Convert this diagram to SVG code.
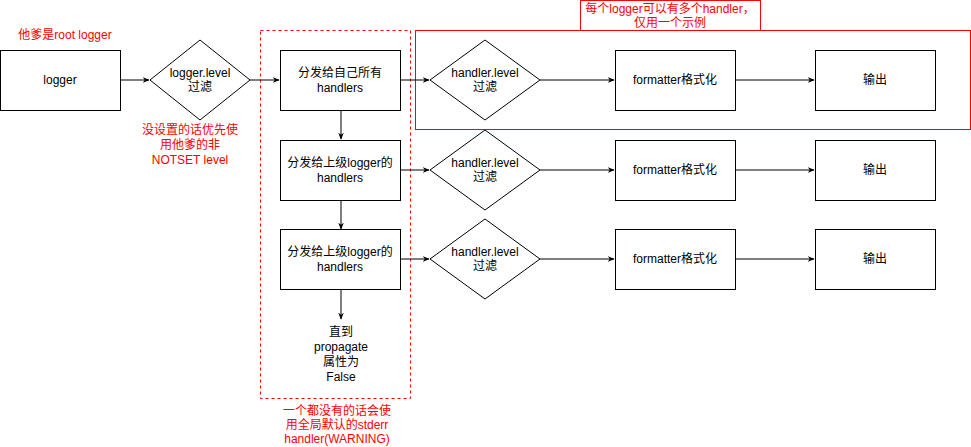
<svg xmlns="http://www.w3.org/2000/svg" width="971" height="447" viewBox="0 0 971 447">
<style>
text{font-family:"Liberation Sans",Arial,"Noto Sans CJK SC",sans-serif;font-size:12px;text-anchor:middle}
.n{fill:#fff;stroke:#000;stroke-width:1}
.r{fill:#ff0000}
.c{stroke:#000;stroke-width:1;fill:none;marker-end:url(#a)}
</style>
<defs><marker id="a" viewBox="0 0 10 10" refX="9" refY="5" markerWidth="7" markerHeight="7" orient="auto"><path d="M0,1 L10,5 L0,9 L3,5 Z" fill="#000"/></marker></defs>
<rect width="971" height="447" fill="#fff"/>
<g id="frames">
<rect x="260.5" y="30.5" width="150" height="368" fill="none" stroke="#ff0000" stroke-dasharray="3,3"/>
<rect x="415.5" y="30.5" width="555" height="99" fill="none" stroke="#ff0000"/>
<rect x="580.5" y="0.5" width="180" height="30" fill="#fff" stroke="#ff0000"/>
<text x="670" y="13" class="r">每个logger可以有多个handler，</text>
<text x="670" y="27" class="r">仅用一个示例</text>
</g>
<g id="connectors">
<line class="c" x1="120" y1="80" x2="149" y2="80"/>
<line class="c" x1="250" y1="80" x2="279" y2="80"/>
<line class="c" x1="400" y1="80" x2="429" y2="80"/>
<line class="c" x1="400" y1="170" x2="429" y2="170"/>
<line class="c" x1="400" y1="259" x2="429" y2="259"/>
<line class="c" x1="540" y1="80" x2="614" y2="80"/>
<line class="c" x1="540" y1="170" x2="614" y2="170"/>
<line class="c" x1="540" y1="259" x2="614" y2="259"/>
<line class="c" x1="735" y1="80" x2="814" y2="80"/>
<line class="c" x1="735" y1="170" x2="814" y2="170"/>
<line class="c" x1="735" y1="259" x2="814" y2="259"/>
<line class="c" x1="341" y1="110" x2="341" y2="139"/>
<line class="c" x1="341" y1="200" x2="341" y2="229"/>
<line class="c" x1="341" y1="290" x2="341" y2="319"/>
</g>
<g id="logger"><rect class="n" x="0.5" y="50.5" width="120" height="60"/><text x="60" y="84">logger</text></g>
<text x="65" y="39" class="r">他爹是root logger</text>
<g id="loggerlevel"><path class="n" d="M200,40 L250,80 L200,120 L150,80 Z"/><text x="200" y="77">logger.level</text><text x="200" y="91">过滤</text></g>
<text x="190" y="134" class="r">没设置的话优先使</text>
<text x="190" y="149" class="r">用他爹的非</text>
<text x="190" y="164" class="r">NOTSET level</text>
<g id="h1"><rect class="n" x="280.5" y="50.5" width="120" height="60"/><text x="340" y="77">分发给自己所有</text><text x="340" y="92">handlers</text></g>
<g id="h2"><rect class="n" x="280.5" y="140.5" width="120" height="60"/><text x="340" y="167">分发给上级logger的</text><text x="340" y="182">handlers</text></g>
<g id="h3"><rect class="n" x="280.5" y="229.5" width="120" height="60"/><text x="340" y="256">分发给上级logger的</text><text x="340" y="271">handlers</text></g>
<g id="until"><text x="341" y="336">直到</text><text x="341" y="351">propagate</text><text x="341" y="366">属性为</text><text x="341" y="381">False</text></g>
<text x="337" y="415" class="r">一个都没有的话会使</text>
<text x="337" y="429" class="r">用全局默认的stderr</text>
<text x="337" y="443" class="r">handler(WARNING)</text>
<g id="d1"><path class="n" d="M485,40 L540,80 L485,120 L430,80 Z"/><text x="485" y="77">handler.level</text><text x="485" y="91">过滤</text></g>
<g id="d2"><path class="n" d="M485,130 L540,170 L485,210 L430,170 Z"/><text x="485" y="167">handler.level</text><text x="485" y="181">过滤</text></g>
<g id="d3"><path class="n" d="M485,219 L540,259 L485,299 L430,259 Z"/><text x="485" y="256">handler.level</text><text x="485" y="270">过滤</text></g>
<g id="f1"><rect class="n" x="615.5" y="50.5" width="120" height="60"/><text x="675" y="84">formatter格式化</text></g>
<g id="f2"><rect class="n" x="615.5" y="140.5" width="120" height="60"/><text x="675" y="174">formatter格式化</text></g>
<g id="f3"><rect class="n" x="615.5" y="229.5" width="120" height="60"/><text x="675" y="263">formatter格式化</text></g>
<g id="o1"><rect class="n" x="815.5" y="50.5" width="120" height="60"/><text x="875" y="84">输出</text></g>
<g id="o2"><rect class="n" x="815.5" y="140.5" width="120" height="60"/><text x="875" y="174">输出</text></g>
<g id="o3"><rect class="n" x="815.5" y="229.5" width="120" height="60"/><text x="875" y="263">输出</text></g>
</svg>
